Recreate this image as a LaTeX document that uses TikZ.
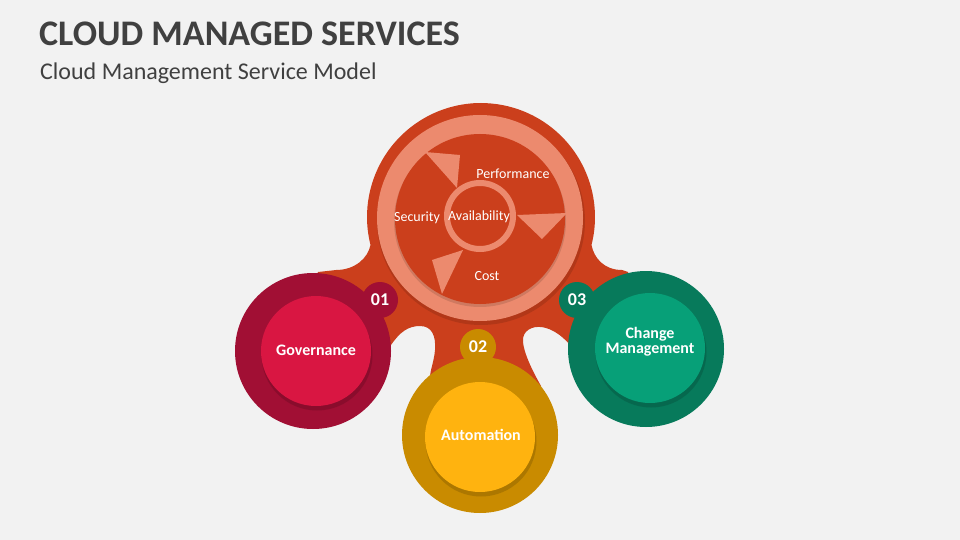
\documentclass[tikz,border=0pt]{standalone}
\usepackage{fontspec}
\setmainfont{Carlito}
\definecolor{bgc}{HTML}{F2F2F2}
\definecolor{titlec}{HTML}{404040}
\definecolor{blobc}{HTML}{CB3F1C}
\definecolor{ringc}{HTML}{EC8A6E}
\definecolor{govout}{HTML}{A10F34}
\definecolor{govin}{HTML}{D91642}
\definecolor{autout}{HTML}{C98B00}
\definecolor{autin}{HTML}{FFB30F}
\definecolor{chgout}{HTML}{077A5B}
\definecolor{chgin}{HTML}{07A078}
\begin{document}
\begin{tikzpicture}[x=1pt,y=-1pt,
  outercirc/.style={circle,inner sep=0pt,outer sep=0pt,minimum size=156pt},
  innercirc/.style={circle,inner sep=0pt,outer sep=0pt,minimum size=110pt,text=white,
    font=\bfseries\fontsize{16}{16}\selectfont,align=center},
  circtext/.style={inner sep=0pt,text=white,font=\bfseries\fontsize{16}{15}\selectfont,align=center},
  badge/.style={circle,inner sep=0pt,outer sep=0pt,minimum size=36pt,text=white,
    font=\bfseries\fontsize{18}{18}\selectfont},
  lbl/.style={text=white,font=\fontsize{14}{14}\selectfont,inner sep=0pt},
  tri/.style={fill=ringc},
  shade/.style={fill=black,opacity=0.14}]
\fill[bgc] (0,0) rectangle (960,540);
\useasboundingbox (0,0) rectangle (960,540);

% titles
\node[anchor=base west,inner sep=0pt,text=titlec,font=\bfseries\fontsize{36}{36}\selectfont] (title) at (39,46) {CLOUD MANAGED SERVICES};
\node[anchor=base west,inner sep=0pt,text=titlec,font=\fontsize{24}{24}\selectfont] (subtitle) at (40,80) {Cloud Management Service Model};

% central blob
\fill[blobc] (481,103) arc[start angle=270,end angle=165.8,radius=114]
  .. controls (368,258) and (355,270) .. (336,270)
  -- (318,272) -- (300,320) -- (391,345)
  .. controls (400,332) and (408,326) .. (420,326)
  .. controls (432,326) and (436,336) .. (435,350)
  .. controls (434,362) and (430,370) .. (430,378)
  -- (480,430) -- (541,386)
  .. controls (532,370) and (522,350) .. (523,338)
  .. controls (525,328) and (536,325) .. (546,328)
  .. controls (556,331) and (564,338) .. (570,345)
  -- (640,320) -- (628,272) -- (622,270)
  .. controls (604,270) and (594,258) .. (591.5,245)
  arc[start angle=14.2,end angle=-90,radius=114] -- cycle;

% ring
\fill[black,opacity=0.12] (481,221) circle[radius=104];
\node[circle,fill=ringc,minimum size=206pt,inner sep=0pt] (ring) at (480,218) {};
\fill[black,opacity=0.12] (480,221) circle[radius=86];
\node[circle,fill=blobc,minimum size=170pt,inner sep=0pt] (core) at (480,219) {};
\node[circle,draw=ringc,line width=6pt,minimum size=66pt,inner sep=0pt] (hub) at (480,216) {};

% triangles
\fill[tri] (425,152) -- (460,155) -- (457,188) -- cycle;
\fill[tri] (517,215) -- (567,213) -- (542,239) -- cycle;
\fill[tri] (432,260) -- (463,250) -- (442,294) -- cycle;

% labels
\node[lbl] (perf) at (513,174) {Performance};
\node[lbl] (sec) at (417,218) {Security};
\node[lbl] (avail) at (479,217) {Availability};
\node[lbl] (cost) at (487,276) {Cost};

% Governance
\node[outercirc,fill=govout] (govO) at (313,351) {};
\fill[shade] (317,355) circle[radius=55.5];
\node[innercirc,fill=govin] (gov) at (316,351) {};
\node[circtext] (govtxt) at (316,350) {Governance};
\node[badge,fill=govout] (b1) at (380,300) {01};

% Automation
\node[outercirc,fill=autout] (autO) at (480,435) {};
\fill[shade] (481,441) circle[radius=55.5];
\node[innercirc,fill=autin] (aut) at (480,437) {};
\node[circtext] (auttxt) at (481,435) {Automation};
\node[badge,fill=autout] (b2) at (478,347) {02};

% Change management
\node[outercirc,fill=chgout] (chgO) at (646,349) {};
\fill[shade] (651,352) circle[radius=55.5];
\node[innercirc,fill=chgin] (chg) at (650,348) {};
\node[circtext] (chgtxt) at (650,342) {Change\\Management};
\node[badge,fill=chgout] (b3) at (577,300) {03};
\end{tikzpicture}
\end{document}
